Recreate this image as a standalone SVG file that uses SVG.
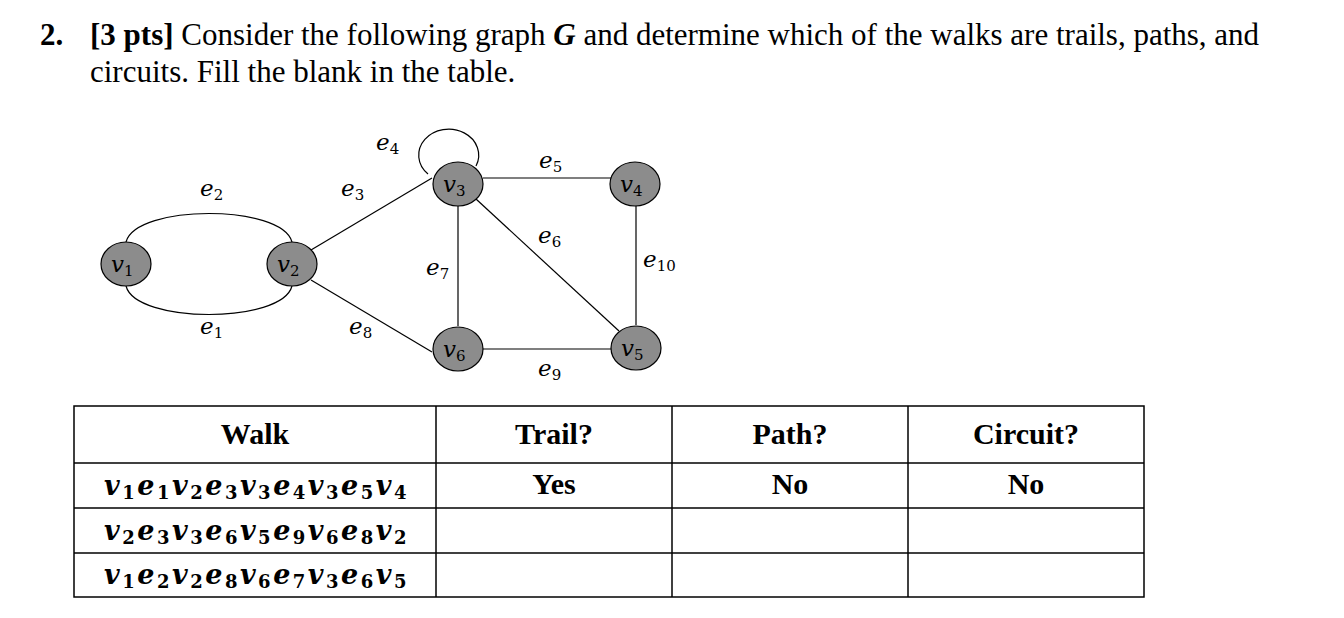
<svg xmlns="http://www.w3.org/2000/svg" width="1344" height="618" viewBox="0 0 1344 618">
<style>
text{font-family:"Liberation Serif","Times New Roman",serif;fill:#000}
.t{font-size:31px}
.m{font-family:"DejaVu Serif",serif;font-size:23px;font-style:italic}
.s{font-size:15px;font-style:normal}
.h{font-size:30px;font-weight:bold}
.w{font-family:"DejaVu Serif",serif;font-size:27px;font-style:italic;font-weight:bold;letter-spacing:2.5px}
.ws{font-size:18px;font-style:normal;font-weight:bold}
.n{fill:#8c8c8c;stroke:#000;stroke-width:1.2}
.e{fill:none;stroke:#000;stroke-width:1.2}
.g{fill:none;stroke:#000;stroke-width:1.5}
</style>
<rect width="1344" height="618" fill="#fff"/>
<text class="t" x="40" y="45"><tspan font-weight="bold">2.</tspan><tspan font-weight="bold" x="90">[3 pts]</tspan> Consider the following graph <tspan font-weight="bold" font-style="italic">G</tspan> and determine which of the walks are trails, paths, and</text>
<text class="t" x="90" y="82">circuits. Fill the blank in the table.</text>
<g id="edges">
<path class="e" d="M126,242 C136,204 282,204 292,242"/>
<path class="e" d="M126,286 C136,324 282,324 292,286"/>
<line class="e" x1="311" y1="250" x2="432" y2="178"/>
<line class="e" x1="311" y1="280" x2="432" y2="352"/>
<path class="e" d="M428,174 A30 26 0 1 1 476,166"/>
<line class="e" x1="483" y1="178" x2="611" y2="178"/>
<line class="e" x1="458" y1="206" x2="458" y2="326"/>
<line class="e" x1="476" y1="199" x2="619" y2="331"/>
<line class="e" x1="483" y1="349" x2="611" y2="349"/>
<line class="e" x1="636" y1="206" x2="636" y2="325"/>
</g>
<g id="v1"><ellipse class="n" cx="126" cy="264" rx="25" ry="22"/><text class="m" x="111" y="272">v<tspan class="s" dy="4">1</tspan></text></g>
<g id="v2"><ellipse class="n" cx="292" cy="264" rx="25" ry="22"/><text class="m" x="277" y="272">v<tspan class="s" dy="4">2</tspan></text></g>
<g id="v3"><ellipse class="n" cx="458" cy="184" rx="25" ry="22"/><text class="m" x="443" y="192">v<tspan class="s" dy="4">3</tspan></text></g>
<g id="v4"><ellipse class="n" cx="635" cy="184" rx="25" ry="22"/><text class="m" x="620" y="192">v<tspan class="s" dy="4">4</tspan></text></g>
<g id="v5"><ellipse class="n" cx="636" cy="348" rx="25" ry="22"/><text class="m" x="621" y="356">v<tspan class="s" dy="4">5</tspan></text></g>
<g id="v6"><ellipse class="n" cx="458" cy="349" rx="25" ry="22"/><text class="m" x="443" y="357">v<tspan class="s" dy="4">6</tspan></text></g>
<g id="labels">
<text class="m" x="200" y="196">e<tspan class="s" dy="4">2</tspan></text>
<text class="m" x="200" y="334">e<tspan class="s" dy="4">1</tspan></text>
<text class="m" x="341" y="196">e<tspan class="s" dy="4">3</tspan></text>
<text class="m" x="349" y="334">e<tspan class="s" dy="4">8</tspan></text>
<text class="m" x="376" y="150">e<tspan class="s" dy="4">4</tspan></text>
<text class="m" x="539" y="168">e<tspan class="s" dy="4">5</tspan></text>
<text class="m" x="538" y="243">e<tspan class="s" dy="4">6</tspan></text>
<text class="m" x="426" y="275">e<tspan class="s" dy="4">7</tspan></text>
<text class="m" x="538" y="376">e<tspan class="s" dy="4">9</tspan></text>
<text class="m" x="643" y="267">e<tspan class="s" dy="4">10</tspan></text>
</g>
<g id="table">
<rect class="g" x="74" y="406" width="1070" height="191"/>
<line class="g" x1="74" y1="463" x2="1144" y2="463"/>
<line class="g" x1="74" y1="508" x2="1144" y2="508"/>
<line class="g" x1="74" y1="553" x2="1144" y2="553"/>
<line class="g" x1="436" y1="406" x2="436" y2="597"/>
<line class="g" x1="672" y1="406" x2="672" y2="597"/>
<line class="g" x1="908" y1="406" x2="908" y2="597"/>
<text class="h" x="255" y="444" text-anchor="middle">Walk</text>
<text class="h" x="554" y="444" text-anchor="middle">Trail?</text>
<text class="h" x="790" y="444" text-anchor="middle">Path?</text>
<text class="h" x="1026" y="444" text-anchor="middle">Circuit?</text>
<text class="h" x="554" y="494" text-anchor="middle">Yes</text>
<text class="h" x="790" y="494" text-anchor="middle">No</text>
<text class="h" x="1026" y="494" text-anchor="middle">No</text>
<text class="w" x="104" y="495">v<tspan class="ws" dy="4">1</tspan><tspan dy="-4">e</tspan><tspan class="ws" dy="4">1</tspan><tspan dy="-4">v</tspan><tspan class="ws" dy="4">2</tspan><tspan dy="-4">e</tspan><tspan class="ws" dy="4">3</tspan><tspan dy="-4">v</tspan><tspan class="ws" dy="4">3</tspan><tspan dy="-4">e</tspan><tspan class="ws" dy="4">4</tspan><tspan dy="-4">v</tspan><tspan class="ws" dy="4">3</tspan><tspan dy="-4">e</tspan><tspan class="ws" dy="4">5</tspan><tspan dy="-4">v</tspan><tspan class="ws" dy="4">4</tspan></text>
<text class="w" x="104" y="540">v<tspan class="ws" dy="4">2</tspan><tspan dy="-4">e</tspan><tspan class="ws" dy="4">3</tspan><tspan dy="-4">v</tspan><tspan class="ws" dy="4">3</tspan><tspan dy="-4">e</tspan><tspan class="ws" dy="4">6</tspan><tspan dy="-4">v</tspan><tspan class="ws" dy="4">5</tspan><tspan dy="-4">e</tspan><tspan class="ws" dy="4">9</tspan><tspan dy="-4">v</tspan><tspan class="ws" dy="4">6</tspan><tspan dy="-4">e</tspan><tspan class="ws" dy="4">8</tspan><tspan dy="-4">v</tspan><tspan class="ws" dy="4">2</tspan></text>
<text class="w" x="104" y="584">v<tspan class="ws" dy="4">1</tspan><tspan dy="-4">e</tspan><tspan class="ws" dy="4">2</tspan><tspan dy="-4">v</tspan><tspan class="ws" dy="4">2</tspan><tspan dy="-4">e</tspan><tspan class="ws" dy="4">8</tspan><tspan dy="-4">v</tspan><tspan class="ws" dy="4">6</tspan><tspan dy="-4">e</tspan><tspan class="ws" dy="4">7</tspan><tspan dy="-4">v</tspan><tspan class="ws" dy="4">3</tspan><tspan dy="-4">e</tspan><tspan class="ws" dy="4">6</tspan><tspan dy="-4">v</tspan><tspan class="ws" dy="4">5</tspan></text>
</g>
</svg>
